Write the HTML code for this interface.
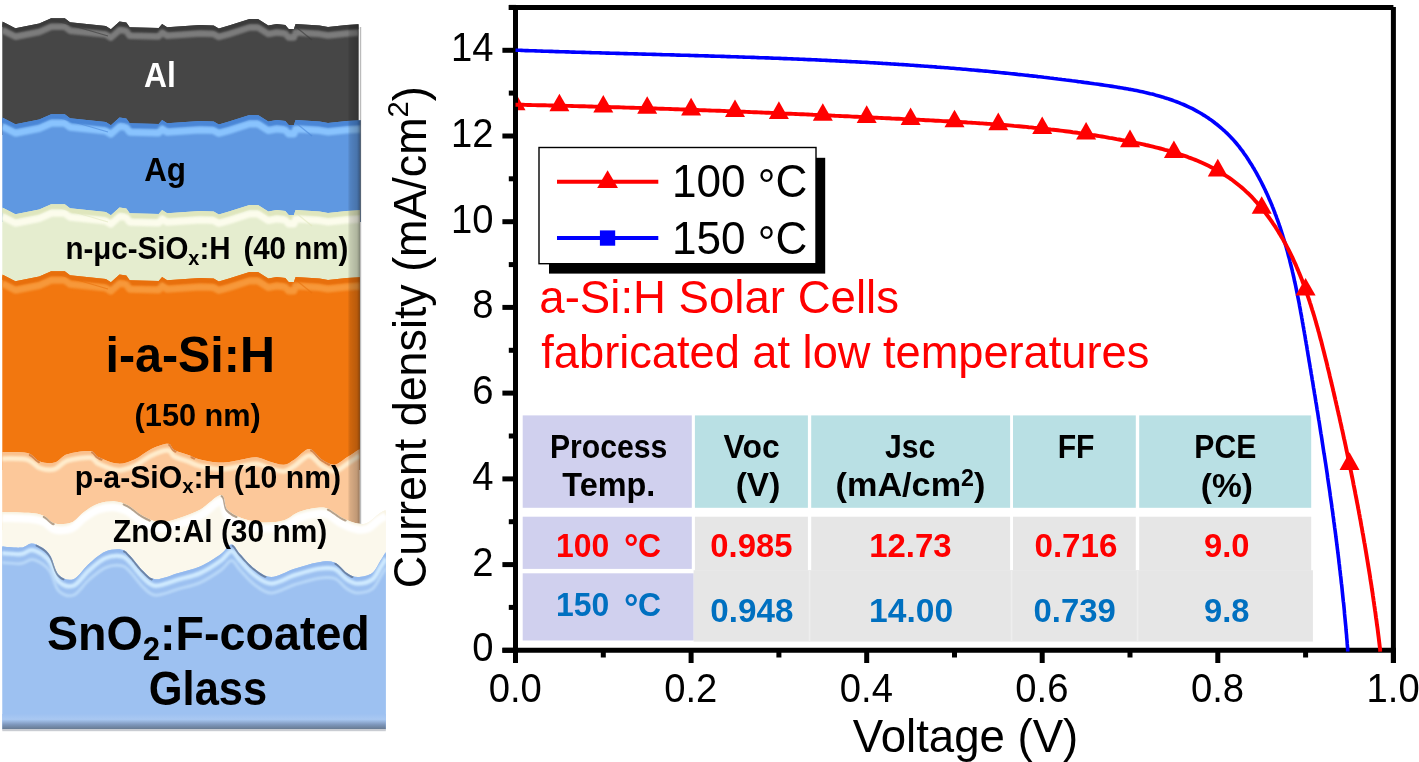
<!DOCTYPE html>
<html lang="en"><head><meta charset="utf-8"><title>a-Si:H Solar Cells fabricated at low temperatures</title>
<style>
html,body{margin:0;padding:0;background:#fff;}
body{width:1419px;height:762px;overflow:hidden;}
svg{display:block;}
</style></head><body>
<svg width="1419" height="762" viewBox="0 0 1419 762">
<defs>
<filter id="b05" x="-5%" y="-50%" width="110%" height="200%"><feGaussianBlur stdDeviation="0.5"/></filter>
<filter id="b1" x="-5%" y="-50%" width="110%" height="200%"><feGaussianBlur stdDeviation="0.9"/></filter>
<linearGradient id="side" x1="0" x2="1" y1="0" y2="0"><stop offset="0" stop-color="#000" stop-opacity="0"/><stop offset="0.18" stop-color="#000" stop-opacity="0.14"/><stop offset="0.7" stop-color="#000" stop-opacity="0.24"/><stop offset="1" stop-color="#000" stop-opacity="0.5"/></linearGradient>
<linearGradient id="bot" x1="0" x2="0" y1="0" y2="1"><stop offset="0" stop-color="#9ec1f1"/><stop offset="0.35" stop-color="#a9c8f2"/><stop offset="0.7" stop-color="#7d96ba"/><stop offset="1" stop-color="#66788f"/></linearGradient>
<clipPath id="c_al"><path d="M2.3 135.0 L2.3 21.5 L15.4 28.2 L39.2 23.5 L51.2 18.2 L64.8 18.2 L70.0 22.2 L105.8 26.0 L110.9 29.2 L119.5 21.5 L126.3 22.4 L129.7 27.3 L158.7 28.0 L162.1 24.0 L167.2 27.3 L200.0 24.9 L213.7 25.6 L218.8 28.4 L229.0 25.6 L249.5 19.0 L258.0 19.0 L268.3 25.6 L276.8 24.0 L285.3 24.9 L288.7 29.0 L293.9 29.0 L295.6 24.0 L319.5 25.6 L328.0 27.0 L346.8 24.9 L358.6 24.2 L358.6 135.0 L2.3 135.0 Z"/></clipPath>
<clipPath id="c_ag"><path d="M2.3 222.0 L2.3 117.5 L15.4 124.2 L39.2 119.5 L51.2 114.2 L64.8 114.2 L70.0 118.2 L105.8 122.0 L110.9 125.2 L119.5 117.5 L126.3 118.4 L129.7 123.3 L158.7 124.0 L162.1 120.0 L167.2 123.3 L200.0 120.9 L213.7 121.6 L218.8 124.4 L229.0 121.6 L249.5 115.0 L258.0 115.0 L268.3 121.6 L276.8 120.0 L285.3 120.9 L288.7 125.0 L293.9 125.0 L295.6 120.0 L319.5 121.6 L328.0 123.0 L346.8 120.9 L361.0 120.2 L361.0 222.0 L2.3 222.0 Z"/></clipPath>
<clipPath id="c_n"><path d="M2.3 290.0 L2.3 207.5 L15.4 214.2 L39.2 209.5 L51.2 204.2 L64.8 204.2 L70.0 208.2 L105.8 212.0 L110.9 215.2 L119.5 207.5 L126.3 208.4 L129.7 213.3 L158.7 214.0 L162.1 210.0 L167.2 213.3 L200.0 210.9 L213.7 211.6 L218.8 214.4 L229.0 211.6 L249.5 205.0 L258.0 205.0 L268.3 211.6 L276.8 210.0 L285.3 210.9 L288.7 215.0 L293.9 215.0 L295.6 210.0 L319.5 211.6 L328.0 213.0 L346.8 210.9 L360.0 210.2 L360.0 290.0 L2.3 290.0 Z"/></clipPath>
<clipPath id="c_i"><path d="M2.3 470.0 L2.3 274.5 L15.4 281.2 L39.2 276.5 L51.2 271.2 L64.8 271.2 L70.0 275.2 L105.8 279.0 L110.9 282.2 L119.5 274.5 L126.3 275.4 L129.7 280.3 L158.7 281.0 L162.1 277.0 L167.2 280.3 L200.0 277.9 L213.7 278.6 L218.8 281.4 L229.0 278.6 L249.5 272.0 L258.0 272.0 L268.3 278.6 L276.8 277.0 L285.3 277.9 L288.7 282.0 L293.9 282.0 L295.6 277.0 L319.5 278.6 L328.0 280.0 L346.8 277.9 L360.0 277.2 L360.0 470.0 L2.3 470.0 Z"/></clipPath>
<clipPath id="c_p"><path d="M2.3 530.0 L2.1 452.1 C6.3 452.3 21.0 451.5 27.3 453.1 C33.6 454.7 35.4 459.9 39.9 461.5 C44.4 463.1 50.0 463.8 54.6 462.6 C59.2 461.4 61.2 456.1 67.2 454.2 C73.2 452.3 85.0 450.5 90.3 451.0 C95.5 451.5 94.2 455.2 98.7 457.3 C103.2 459.4 111.6 463.2 117.6 463.6 C123.6 464.0 128.9 461.8 134.5 459.4 C140.1 456.9 145.7 451.5 151.3 448.9 C156.9 446.3 164.2 443.5 168.0 443.7 C171.8 443.9 170.9 448.1 174.4 450.0 C177.9 451.9 184.7 453.6 189.0 455.2 C193.3 456.8 194.7 458.2 200.0 459.4 C205.3 460.6 214.0 462.6 221.0 462.6 C228.0 462.6 236.1 460.3 242.0 459.4 C247.9 458.5 252.1 456.9 256.7 457.3 C261.2 457.7 264.8 460.3 269.3 461.5 C273.9 462.7 279.8 465.1 284.0 464.7 C288.2 464.3 290.3 462.0 294.5 459.4 C298.7 456.8 304.6 448.9 309.2 448.9 C313.8 448.9 317.6 456.8 321.8 459.4 C326.0 462.0 330.3 465.0 334.5 464.7 C338.7 464.4 342.8 459.9 347.0 457.3 C351.2 454.7 357.6 450.3 359.7 448.9 L359.7 530.0 L2.3 530.0 Z"/></clipPath>
<clipPath id="c_z"><path d="M2.3 585.0 L2.1 511.9 C7.0 512.1 24.5 512.3 31.5 513.0 C38.5 513.7 40.2 514.4 44.1 516.1 C48.0 517.9 50.0 522.5 54.6 523.5 C59.2 524.5 66.5 524.3 71.4 522.4 C76.3 520.5 79.5 515.0 84.0 511.9 C88.5 508.8 93.5 505.2 98.7 503.5 C104.0 501.8 110.6 501.0 115.5 501.4 C120.4 501.8 123.6 503.2 128.2 505.6 C132.8 508.1 137.7 513.3 142.9 516.1 C148.2 518.9 153.8 522.0 159.7 522.4 C165.6 522.8 171.9 520.3 178.6 518.2 C185.3 516.1 192.9 513.6 200.0 509.8 C207.1 505.9 216.4 495.1 221.0 495.1 C225.6 495.1 223.8 505.9 227.3 509.8 C230.8 513.6 236.1 516.1 242.0 518.2 C247.9 520.3 256.0 522.0 263.0 522.4 C270.0 522.8 278.1 522.0 284.0 520.3 C289.9 518.5 293.1 514.0 298.7 511.9 C304.3 509.8 312.7 508.2 317.6 507.7 C322.5 507.2 324.0 507.1 328.2 508.8 C332.4 510.6 338.0 515.8 342.9 518.2 C347.8 520.7 353.4 522.8 357.6 523.5 C361.8 524.2 364.5 524.0 368.0 522.4 C371.5 520.8 375.6 516.1 378.6 514.0 C381.6 511.9 384.7 510.5 385.9 509.8 L385.9 585.0 L2.3 585.0 Z"/></clipPath>
<clipPath id="c_s"><path d="M2.3 729.3 L2.1 546.6 C5.2 546.8 16.1 548.1 21.0 547.6 C25.9 547.1 28.0 543.4 31.5 543.4 C35.0 543.4 38.9 545.5 42.0 547.6 C45.1 549.7 47.6 551.4 50.4 556.0 C53.2 560.6 54.9 571.1 58.8 575.0 C62.6 578.9 68.6 581.0 73.5 579.2 C78.4 577.5 83.0 569.1 88.2 564.5 C93.5 559.9 99.4 554.3 105.0 551.8 C110.6 549.3 117.6 549.0 121.8 549.7 C126.0 550.4 126.8 552.5 130.3 556.0 C133.8 559.5 138.7 566.9 142.9 570.8 C147.1 574.7 149.6 578.9 155.5 579.2 C161.4 579.6 171.2 575.0 178.6 572.9 C186.0 570.8 192.9 569.8 200.0 566.6 C207.1 563.5 215.8 557.7 221.0 554.0 C226.2 550.3 228.3 544.5 231.5 544.5 C234.7 544.5 236.2 550.0 240.0 554.0 C243.8 558.0 249.4 564.9 254.6 568.7 C259.8 572.5 264.8 577.0 271.4 577.0 C278.0 577.0 286.8 571.1 294.5 568.7 C302.2 566.3 310.9 563.5 317.6 562.4 C324.3 561.3 329.6 560.6 334.5 562.4 C339.4 564.1 343.1 570.5 347.0 572.9 C350.9 575.3 353.4 577.0 357.6 577.0 C361.8 577.0 368.5 575.7 372.3 572.9 C376.1 570.1 378.4 563.8 380.7 560.3 C383.0 556.8 385.0 553.2 385.9 551.8 L385.9 729.3 L2.3 729.3 Z"/></clipPath>
<clipPath id="c_sideclip"><path d="M2.3 135.0 L2.3 21.5 L15.4 28.2 L39.2 23.5 L51.2 18.2 L64.8 18.2 L70.0 22.2 L105.8 26.0 L110.9 29.2 L119.5 21.5 L126.3 22.4 L129.7 27.3 L158.7 28.0 L162.1 24.0 L167.2 27.3 L200.0 24.9 L213.7 25.6 L218.8 28.4 L229.0 25.6 L249.5 19.0 L258.0 19.0 L268.3 25.6 L276.8 24.0 L285.3 24.9 L288.7 29.0 L293.9 29.0 L295.6 24.0 L319.5 25.6 L328.0 27.0 L346.8 24.9 L358.6 24.2 L358.6 135.0 L2.3 135.0 Z"/><path d="M2.3 222.0 L2.3 117.5 L15.4 124.2 L39.2 119.5 L51.2 114.2 L64.8 114.2 L70.0 118.2 L105.8 122.0 L110.9 125.2 L119.5 117.5 L126.3 118.4 L129.7 123.3 L158.7 124.0 L162.1 120.0 L167.2 123.3 L200.0 120.9 L213.7 121.6 L218.8 124.4 L229.0 121.6 L249.5 115.0 L258.0 115.0 L268.3 121.6 L276.8 120.0 L285.3 120.9 L288.7 125.0 L293.9 125.0 L295.6 120.0 L319.5 121.6 L328.0 123.0 L346.8 120.9 L361.0 120.2 L361.0 222.0 L2.3 222.0 Z"/><path d="M2.3 290.0 L2.3 207.5 L15.4 214.2 L39.2 209.5 L51.2 204.2 L64.8 204.2 L70.0 208.2 L105.8 212.0 L110.9 215.2 L119.5 207.5 L126.3 208.4 L129.7 213.3 L158.7 214.0 L162.1 210.0 L167.2 213.3 L200.0 210.9 L213.7 211.6 L218.8 214.4 L229.0 211.6 L249.5 205.0 L258.0 205.0 L268.3 211.6 L276.8 210.0 L285.3 210.9 L288.7 215.0 L293.9 215.0 L295.6 210.0 L319.5 211.6 L328.0 213.0 L346.8 210.9 L360.0 210.2 L360.0 290.0 L2.3 290.0 Z"/><path d="M2.3 470.0 L2.3 274.5 L15.4 281.2 L39.2 276.5 L51.2 271.2 L64.8 271.2 L70.0 275.2 L105.8 279.0 L110.9 282.2 L119.5 274.5 L126.3 275.4 L129.7 280.3 L158.7 281.0 L162.1 277.0 L167.2 280.3 L200.0 277.9 L213.7 278.6 L218.8 281.4 L229.0 278.6 L249.5 272.0 L258.0 272.0 L268.3 278.6 L276.8 277.0 L285.3 277.9 L288.7 282.0 L293.9 282.0 L295.6 277.0 L319.5 278.6 L328.0 280.0 L346.8 277.9 L360.0 277.2 L360.0 470.0 L2.3 470.0 Z"/><path d="M2.3 530.0 L2.1 452.1 C6.3 452.3 21.0 451.5 27.3 453.1 C33.6 454.7 35.4 459.9 39.9 461.5 C44.4 463.1 50.0 463.8 54.6 462.6 C59.2 461.4 61.2 456.1 67.2 454.2 C73.2 452.3 85.0 450.5 90.3 451.0 C95.5 451.5 94.2 455.2 98.7 457.3 C103.2 459.4 111.6 463.2 117.6 463.6 C123.6 464.0 128.9 461.8 134.5 459.4 C140.1 456.9 145.7 451.5 151.3 448.9 C156.9 446.3 164.2 443.5 168.0 443.7 C171.8 443.9 170.9 448.1 174.4 450.0 C177.9 451.9 184.7 453.6 189.0 455.2 C193.3 456.8 194.7 458.2 200.0 459.4 C205.3 460.6 214.0 462.6 221.0 462.6 C228.0 462.6 236.1 460.3 242.0 459.4 C247.9 458.5 252.1 456.9 256.7 457.3 C261.2 457.7 264.8 460.3 269.3 461.5 C273.9 462.7 279.8 465.1 284.0 464.7 C288.2 464.3 290.3 462.0 294.5 459.4 C298.7 456.8 304.6 448.9 309.2 448.9 C313.8 448.9 317.6 456.8 321.8 459.4 C326.0 462.0 330.3 465.0 334.5 464.7 C338.7 464.4 342.8 459.9 347.0 457.3 C351.2 454.7 357.6 450.3 359.7 448.9 L359.7 530.0 L2.3 530.0 Z"/></clipPath>
<clipPath id="plotclip"><rect x="518" y="5" width="878" height="648"/></clipPath><clipPath id="lineclip"><rect x="515" y="5" width="881" height="646.8"/></clipPath>
<clipPath id="sideclip0"><rect x="0" y="0" width="361" height="530"/></clipPath>
</defs>
<rect width="1419" height="762" fill="#fff"/>
<!-- layer stack -->
<g id="stack">
<path d="M2.3 135.0 L2.3 21.5 L15.4 28.2 L39.2 23.5 L51.2 18.2 L64.8 18.2 L70.0 22.2 L105.8 26.0 L110.9 29.2 L119.5 21.5 L126.3 22.4 L129.7 27.3 L158.7 28.0 L162.1 24.0 L167.2 27.3 L200.0 24.9 L213.7 25.6 L218.8 28.4 L229.0 25.6 L249.5 19.0 L258.0 19.0 L268.3 25.6 L276.8 24.0 L285.3 24.9 L288.7 29.0 L293.9 29.0 L295.6 24.0 L319.5 25.6 L328.0 27.0 L346.8 24.9 L358.6 24.2 L358.6 135.0 L2.3 135.0 Z" fill="#464646"/>
<g clip-path="url(#c_al)"><path d="M2.3 21.5 L15.4 28.2 L39.2 23.5 L51.2 18.2 L64.8 18.2 L70.0 22.2 L105.8 26.0 L110.9 29.2 L119.5 21.5 L126.3 22.4 L129.7 27.3 L158.7 28.0 L162.1 24.0 L167.2 27.3 L200.0 24.9 L213.7 25.6 L218.8 28.4 L229.0 25.6 L249.5 19.0 L258.0 19.0 L268.3 25.6 L276.8 24.0 L285.3 24.9 L288.7 29.0 L293.9 29.0 L295.6 24.0 L319.5 25.6 L328.0 27.0 L346.8 24.9 L358.6 24.2" fill="none" stroke="#3b3b3b" stroke-width="6" transform="translate(0,2)"/><path d="M2.3 21.5 L15.4 28.2 L39.2 23.5 L51.2 18.2 L64.8 18.2 L70.0 22.2 L105.8 26.0 L110.9 29.2 L119.5 21.5 L126.3 22.4 L129.7 27.3 L158.7 28.0 L162.1 24.0 L167.2 27.3 L200.0 24.9 L213.7 25.6 L218.8 28.4 L229.0 25.6 L249.5 19.0 L258.0 19.0 L268.3 25.6 L276.8 24.0 L285.3 24.9 L288.7 29.0 L293.9 29.0 L295.6 24.0 L319.5 25.6 L328.0 27.0 L346.8 24.9 L358.6 24.2" fill="none" stroke="#8a8a8a" stroke-width="6.5" stroke-linejoin="round" opacity="0.8" transform="translate(0,8.5)" filter="url(#b1)"/><path d="M50 19.0 L108 36.0 M296 27.0 L312 40.0" stroke="#3b3b3b" stroke-width="1.3" opacity="0.6" fill="none"/></g>
<path d="M2.3 222.0 L2.3 117.5 L15.4 124.2 L39.2 119.5 L51.2 114.2 L64.8 114.2 L70.0 118.2 L105.8 122.0 L110.9 125.2 L119.5 117.5 L126.3 118.4 L129.7 123.3 L158.7 124.0 L162.1 120.0 L167.2 123.3 L200.0 120.9 L213.7 121.6 L218.8 124.4 L229.0 121.6 L249.5 115.0 L258.0 115.0 L268.3 121.6 L276.8 120.0 L285.3 120.9 L288.7 125.0 L293.9 125.0 L295.6 120.0 L319.5 121.6 L328.0 123.0 L346.8 120.9 L361.0 120.2 L361.0 222.0 L2.3 222.0 Z" fill="#5f98e1"/>
<g clip-path="url(#c_ag)"><path d="M2.3 117.5 L15.4 124.2 L39.2 119.5 L51.2 114.2 L64.8 114.2 L70.0 118.2 L105.8 122.0 L110.9 125.2 L119.5 117.5 L126.3 118.4 L129.7 123.3 L158.7 124.0 L162.1 120.0 L167.2 123.3 L200.0 120.9 L213.7 121.6 L218.8 124.4 L229.0 121.6 L249.5 115.0 L258.0 115.0 L268.3 121.6 L276.8 120.0 L285.3 120.9 L288.7 125.0 L293.9 125.0 L295.6 120.0 L319.5 121.6 L328.0 123.0 L346.8 120.9 L361.0 120.2" fill="none" stroke="#4a86d6" stroke-width="6" transform="translate(0,2)"/><path d="M2.3 117.5 L15.4 124.2 L39.2 119.5 L51.2 114.2 L64.8 114.2 L70.0 118.2 L105.8 122.0 L110.9 125.2 L119.5 117.5 L126.3 118.4 L129.7 123.3 L158.7 124.0 L162.1 120.0 L167.2 123.3 L200.0 120.9 L213.7 121.6 L218.8 124.4 L229.0 121.6 L249.5 115.0 L258.0 115.0 L268.3 121.6 L276.8 120.0 L285.3 120.9 L288.7 125.0 L293.9 125.0 L295.6 120.0 L319.5 121.6 L328.0 123.0 L346.8 120.9 L361.0 120.2" fill="none" stroke="#8cc6ff" stroke-width="7" stroke-linejoin="round" opacity="0.95" transform="translate(0,9)" filter="url(#b1)"/><path d="M50 115.0 L108 132.0 M296 123.0 L312 136.0" stroke="#4a86d6" stroke-width="1.3" opacity="0.6" fill="none"/></g>
<path d="M2.3 290.0 L2.3 207.5 L15.4 214.2 L39.2 209.5 L51.2 204.2 L64.8 204.2 L70.0 208.2 L105.8 212.0 L110.9 215.2 L119.5 207.5 L126.3 208.4 L129.7 213.3 L158.7 214.0 L162.1 210.0 L167.2 213.3 L200.0 210.9 L213.7 211.6 L218.8 214.4 L229.0 211.6 L249.5 205.0 L258.0 205.0 L268.3 211.6 L276.8 210.0 L285.3 210.9 L288.7 215.0 L293.9 215.0 L295.6 210.0 L319.5 211.6 L328.0 213.0 L346.8 210.9 L360.0 210.2 L360.0 290.0 L2.3 290.0 Z" fill="#e5edcf"/>
<g clip-path="url(#c_n)"><path d="M2.3 207.5 L15.4 214.2 L39.2 209.5 L51.2 204.2 L64.8 204.2 L70.0 208.2 L105.8 212.0 L110.9 215.2 L119.5 207.5 L126.3 208.4 L129.7 213.3 L158.7 214.0 L162.1 210.0 L167.2 213.3 L200.0 210.9 L213.7 211.6 L218.8 214.4 L229.0 211.6 L249.5 205.0 L258.0 205.0 L268.3 211.6 L276.8 210.0 L285.3 210.9 L288.7 215.0 L293.9 215.0 L295.6 210.0 L319.5 211.6 L328.0 213.0 L346.8 210.9 L360.0 210.2" fill="none" stroke="#dfe6bd" stroke-width="6" transform="translate(0,2)"/><path d="M2.3 207.5 L15.4 214.2 L39.2 209.5 L51.2 204.2 L64.8 204.2 L70.0 208.2 L105.8 212.0 L110.9 215.2 L119.5 207.5 L126.3 208.4 L129.7 213.3 L158.7 214.0 L162.1 210.0 L167.2 213.3 L200.0 210.9 L213.7 211.6 L218.8 214.4 L229.0 211.6 L249.5 205.0 L258.0 205.0 L268.3 211.6 L276.8 210.0 L285.3 210.9 L288.7 215.0 L293.9 215.0 L295.6 210.0 L319.5 211.6 L328.0 213.0 L346.8 210.9 L360.0 210.2" fill="none" stroke="#fdfdee" stroke-width="7" stroke-linejoin="round" opacity="0.95" transform="translate(0,9)" filter="url(#b1)"/><path d="M50 205.0 L108 222.0 M296 213.0 L312 226.0" stroke="#dfe6bd" stroke-width="1.3" opacity="0.6" fill="none"/></g>
<path d="M2.3 470.0 L2.3 274.5 L15.4 281.2 L39.2 276.5 L51.2 271.2 L64.8 271.2 L70.0 275.2 L105.8 279.0 L110.9 282.2 L119.5 274.5 L126.3 275.4 L129.7 280.3 L158.7 281.0 L162.1 277.0 L167.2 280.3 L200.0 277.9 L213.7 278.6 L218.8 281.4 L229.0 278.6 L249.5 272.0 L258.0 272.0 L268.3 278.6 L276.8 277.0 L285.3 277.9 L288.7 282.0 L293.9 282.0 L295.6 277.0 L319.5 278.6 L328.0 280.0 L346.8 277.9 L360.0 277.2 L360.0 470.0 L2.3 470.0 Z" fill="#f2770f"/>
<g clip-path="url(#c_i)"><path d="M2.3 274.5 L15.4 281.2 L39.2 276.5 L51.2 271.2 L64.8 271.2 L70.0 275.2 L105.8 279.0 L110.9 282.2 L119.5 274.5 L126.3 275.4 L129.7 280.3 L158.7 281.0 L162.1 277.0 L167.2 280.3 L200.0 277.9 L213.7 278.6 L218.8 281.4 L229.0 278.6 L249.5 272.0 L258.0 272.0 L268.3 278.6 L276.8 277.0 L285.3 277.9 L288.7 282.0 L293.9 282.0 L295.6 277.0 L319.5 278.6 L328.0 280.0 L346.8 277.9 L360.0 277.2" fill="none" stroke="#e86f0c" stroke-width="6" transform="translate(0,2)"/><path d="M2.3 274.5 L15.4 281.2 L39.2 276.5 L51.2 271.2 L64.8 271.2 L70.0 275.2 L105.8 279.0 L110.9 282.2 L119.5 274.5 L126.3 275.4 L129.7 280.3 L158.7 281.0 L162.1 277.0 L167.2 280.3 L200.0 277.9 L213.7 278.6 L218.8 281.4 L229.0 278.6 L249.5 272.0 L258.0 272.0 L268.3 278.6 L276.8 277.0 L285.3 277.9 L288.7 282.0 L293.9 282.0 L295.6 277.0 L319.5 278.6 L328.0 280.0 L346.8 277.9 L360.0 277.2" fill="none" stroke="#f8a045" stroke-width="7" stroke-linejoin="round" opacity="0.8" transform="translate(0,9)" filter="url(#b1)"/><path d="M50 272.0 L108 289.0 M296 280.0 L312 293.0" stroke="#e86f0c" stroke-width="1.3" opacity="0.6" fill="none"/></g>
<path d="M2.3 530.0 L2.1 452.1 C6.3 452.3 21.0 451.5 27.3 453.1 C33.6 454.7 35.4 459.9 39.9 461.5 C44.4 463.1 50.0 463.8 54.6 462.6 C59.2 461.4 61.2 456.1 67.2 454.2 C73.2 452.3 85.0 450.5 90.3 451.0 C95.5 451.5 94.2 455.2 98.7 457.3 C103.2 459.4 111.6 463.2 117.6 463.6 C123.6 464.0 128.9 461.8 134.5 459.4 C140.1 456.9 145.7 451.5 151.3 448.9 C156.9 446.3 164.2 443.5 168.0 443.7 C171.8 443.9 170.9 448.1 174.4 450.0 C177.9 451.9 184.7 453.6 189.0 455.2 C193.3 456.8 194.7 458.2 200.0 459.4 C205.3 460.6 214.0 462.6 221.0 462.6 C228.0 462.6 236.1 460.3 242.0 459.4 C247.9 458.5 252.1 456.9 256.7 457.3 C261.2 457.7 264.8 460.3 269.3 461.5 C273.9 462.7 279.8 465.1 284.0 464.7 C288.2 464.3 290.3 462.0 294.5 459.4 C298.7 456.8 304.6 448.9 309.2 448.9 C313.8 448.9 317.6 456.8 321.8 459.4 C326.0 462.0 330.3 465.0 334.5 464.7 C338.7 464.4 342.8 459.9 347.0 457.3 C351.2 454.7 357.6 450.3 359.7 448.9 L359.7 530.0 L2.3 530.0 Z" fill="#fcc89a"/>
<g clip-path="url(#c_p)"><path d="M2.1 452.1 C6.3 452.3 21.0 451.5 27.3 453.1 C33.6 454.7 35.4 459.9 39.9 461.5 C44.4 463.1 50.0 463.8 54.6 462.6 C59.2 461.4 61.2 456.1 67.2 454.2 C73.2 452.3 85.0 450.5 90.3 451.0 C95.5 451.5 94.2 455.2 98.7 457.3 C103.2 459.4 111.6 463.2 117.6 463.6 C123.6 464.0 128.9 461.8 134.5 459.4 C140.1 456.9 145.7 451.5 151.3 448.9 C156.9 446.3 164.2 443.5 168.0 443.7 C171.8 443.9 170.9 448.1 174.4 450.0 C177.9 451.9 184.7 453.6 189.0 455.2 C193.3 456.8 194.7 458.2 200.0 459.4 C205.3 460.6 214.0 462.6 221.0 462.6 C228.0 462.6 236.1 460.3 242.0 459.4 C247.9 458.5 252.1 456.9 256.7 457.3 C261.2 457.7 264.8 460.3 269.3 461.5 C273.9 462.7 279.8 465.1 284.0 464.7 C288.2 464.3 290.3 462.0 294.5 459.4 C298.7 456.8 304.6 448.9 309.2 448.9 C313.8 448.9 317.6 456.8 321.8 459.4 C326.0 462.0 330.3 465.0 334.5 464.7 C338.7 464.4 342.8 459.9 347.0 457.3 C351.2 454.7 357.6 450.3 359.7 448.9" fill="none" stroke="#fac08c" stroke-width="6" transform="translate(0,2)"/><path d="M2.1 452.1 C6.3 452.3 21.0 451.5 27.3 453.1 C33.6 454.7 35.4 459.9 39.9 461.5 C44.4 463.1 50.0 463.8 54.6 462.6 C59.2 461.4 61.2 456.1 67.2 454.2 C73.2 452.3 85.0 450.5 90.3 451.0 C95.5 451.5 94.2 455.2 98.7 457.3 C103.2 459.4 111.6 463.2 117.6 463.6 C123.6 464.0 128.9 461.8 134.5 459.4 C140.1 456.9 145.7 451.5 151.3 448.9 C156.9 446.3 164.2 443.5 168.0 443.7 C171.8 443.9 170.9 448.1 174.4 450.0 C177.9 451.9 184.7 453.6 189.0 455.2 C193.3 456.8 194.7 458.2 200.0 459.4 C205.3 460.6 214.0 462.6 221.0 462.6 C228.0 462.6 236.1 460.3 242.0 459.4 C247.9 458.5 252.1 456.9 256.7 457.3 C261.2 457.7 264.8 460.3 269.3 461.5 C273.9 462.7 279.8 465.1 284.0 464.7 C288.2 464.3 290.3 462.0 294.5 459.4 C298.7 456.8 304.6 448.9 309.2 448.9 C313.8 448.9 317.6 456.8 321.8 459.4 C326.0 462.0 330.3 465.0 334.5 464.7 C338.7 464.4 342.8 459.9 347.0 457.3 C351.2 454.7 357.6 450.3 359.7 448.9" fill="none" stroke="#fff0d2" stroke-width="5" stroke-linejoin="round" opacity="0.9" transform="translate(0,6.5)" filter="url(#b1)"/><path d="M30.1 454.2 L31.3 454.9 L32.4 455.6 L33.3 456.4 L34.3 457.3 L35.1 458.1 L36.0 459.0 L36.9 459.7 L37.8 460.4 L38.8 461.0 M92.4 451.5 L93.2 451.9 L93.8 452.4 L94.3 453.0 L94.8 453.6 L95.2 454.2 L95.7 454.8 L96.2 455.5 L96.9 456.1 L97.7 456.7 L98.7 457.3 L99.9 457.9 L101.3 458.5 M169.6 444.1 L170.1 444.5 L170.6 445.0 L171.0 445.6 L171.3 446.2 L171.7 446.9 L172.0 447.6 L172.5 448.2 L173.0 448.9 L173.6 449.5 L174.4 450.0 L175.3 450.5 M191.8 456.3 L192.6 456.7 L193.3 457.1 L194.1 457.4 M311.4 449.5 L312.5 450.2 L313.6 451.0 L314.6 452.0 L315.6 453.2 L316.6 454.3 L317.7 455.5 L318.7 456.6 L319.7 457.7 L320.8 458.6 L321.8 459.4 L322.9 460.1 L323.9 460.7 L325.0 461.4 L326.0 462.0 L327.1 462.6 L328.2 463.2 L329.2 463.7" fill="none" stroke="#b4571a" stroke-width="2.6" stroke-linecap="round" opacity="0.55" transform="translate(0,0.8)" filter="url(#b05)"/></g>
<rect x="347.5" y="18" width="13.6" height="520" fill="url(#side)" clip-path="url(#c_sideclip)"/><rect x="359.8" y="27" width="1.4" height="497" fill="#777" opacity="0.5"/>
<path d="M2.3 585.0 L2.1 511.9 C7.0 512.1 24.5 512.3 31.5 513.0 C38.5 513.7 40.2 514.4 44.1 516.1 C48.0 517.9 50.0 522.5 54.6 523.5 C59.2 524.5 66.5 524.3 71.4 522.4 C76.3 520.5 79.5 515.0 84.0 511.9 C88.5 508.8 93.5 505.2 98.7 503.5 C104.0 501.8 110.6 501.0 115.5 501.4 C120.4 501.8 123.6 503.2 128.2 505.6 C132.8 508.1 137.7 513.3 142.9 516.1 C148.2 518.9 153.8 522.0 159.7 522.4 C165.6 522.8 171.9 520.3 178.6 518.2 C185.3 516.1 192.9 513.6 200.0 509.8 C207.1 505.9 216.4 495.1 221.0 495.1 C225.6 495.1 223.8 505.9 227.3 509.8 C230.8 513.6 236.1 516.1 242.0 518.2 C247.9 520.3 256.0 522.0 263.0 522.4 C270.0 522.8 278.1 522.0 284.0 520.3 C289.9 518.5 293.1 514.0 298.7 511.9 C304.3 509.8 312.7 508.2 317.6 507.7 C322.5 507.2 324.0 507.1 328.2 508.8 C332.4 510.6 338.0 515.8 342.9 518.2 C347.8 520.7 353.4 522.8 357.6 523.5 C361.8 524.2 364.5 524.0 368.0 522.4 C371.5 520.8 375.6 516.1 378.6 514.0 C381.6 511.9 384.7 510.5 385.9 509.8 L385.9 585.0 L2.3 585.0 Z" fill="#fbf8ec"/>
<g clip-path="url(#c_z)"><path d="M2.1 511.9 C7.0 512.1 24.5 512.3 31.5 513.0 C38.5 513.7 40.2 514.4 44.1 516.1 C48.0 517.9 50.0 522.5 54.6 523.5 C59.2 524.5 66.5 524.3 71.4 522.4 C76.3 520.5 79.5 515.0 84.0 511.9 C88.5 508.8 93.5 505.2 98.7 503.5 C104.0 501.8 110.6 501.0 115.5 501.4 C120.4 501.8 123.6 503.2 128.2 505.6 C132.8 508.1 137.7 513.3 142.9 516.1 C148.2 518.9 153.8 522.0 159.7 522.4 C165.6 522.8 171.9 520.3 178.6 518.2 C185.3 516.1 192.9 513.6 200.0 509.8 C207.1 505.9 216.4 495.1 221.0 495.1 C225.6 495.1 223.8 505.9 227.3 509.8 C230.8 513.6 236.1 516.1 242.0 518.2 C247.9 520.3 256.0 522.0 263.0 522.4 C270.0 522.8 278.1 522.0 284.0 520.3 C289.9 518.5 293.1 514.0 298.7 511.9 C304.3 509.8 312.7 508.2 317.6 507.7 C322.5 507.2 324.0 507.1 328.2 508.8 C332.4 510.6 338.0 515.8 342.9 518.2 C347.8 520.7 353.4 522.8 357.6 523.5 C361.8 524.2 364.5 524.0 368.0 522.4 C371.5 520.8 375.6 516.1 378.6 514.0 C381.6 511.9 384.7 510.5 385.9 509.8" fill="none" stroke="#f8f3e2" stroke-width="6" transform="translate(0,2)"/><path d="M2.1 511.9 C7.0 512.1 24.5 512.3 31.5 513.0 C38.5 513.7 40.2 514.4 44.1 516.1 C48.0 517.9 50.0 522.5 54.6 523.5 C59.2 524.5 66.5 524.3 71.4 522.4 C76.3 520.5 79.5 515.0 84.0 511.9 C88.5 508.8 93.5 505.2 98.7 503.5 C104.0 501.8 110.6 501.0 115.5 501.4 C120.4 501.8 123.6 503.2 128.2 505.6 C132.8 508.1 137.7 513.3 142.9 516.1 C148.2 518.9 153.8 522.0 159.7 522.4 C165.6 522.8 171.9 520.3 178.6 518.2 C185.3 516.1 192.9 513.6 200.0 509.8 C207.1 505.9 216.4 495.1 221.0 495.1 C225.6 495.1 223.8 505.9 227.3 509.8 C230.8 513.6 236.1 516.1 242.0 518.2 C247.9 520.3 256.0 522.0 263.0 522.4 C270.0 522.8 278.1 522.0 284.0 520.3 C289.9 518.5 293.1 514.0 298.7 511.9 C304.3 509.8 312.7 508.2 317.6 507.7 C322.5 507.2 324.0 507.1 328.2 508.8 C332.4 510.6 338.0 515.8 342.9 518.2 C347.8 520.7 353.4 522.8 357.6 523.5 C361.8 524.2 364.5 524.0 368.0 522.4 C371.5 520.8 375.6 516.1 378.6 514.0 C381.6 511.9 384.7 510.5 385.9 509.8" fill="none" stroke="#ffffff" stroke-width="8" stroke-linejoin="round" opacity="1.0" transform="translate(0,6)" filter="url(#b1)"/><path d="M44.1 516.1 L45.0 516.6 L45.9 517.2 L46.7 517.8 L47.5 518.6 L48.3 519.3 L49.1 520.1 L49.9 520.8 L50.7 521.5 L51.6 522.1 L52.5 522.7 L53.5 523.2 M124.0 503.5 L125.0 504.0 L126.0 504.5 L127.1 505.0 L128.2 505.6 L129.3 506.3 L130.5 507.0 L131.7 507.9 L132.9 508.8 L134.1 509.7 L135.3 510.7 L136.5 511.7 L137.8 512.7 L139.0 513.6 L140.3 514.5 L141.6 515.4 L142.9 516.1 L144.2 516.8 L145.6 517.5 L146.9 518.2 L148.3 518.9 L149.6 519.6 M222.0 495.3 L222.8 495.9 L223.4 496.9 L223.9 498.1 L224.2 499.5 L224.5 501.0 L224.8 502.6 L225.1 504.3 L225.5 505.9 L225.9 507.4 L226.5 508.7 L227.3 509.8 L228.2 510.7 L229.2 511.6 L230.2 512.4 L231.3 513.2 L232.5 514.0 L233.7 514.7 L235.0 515.3 L236.3 515.9 M328.2 508.8 L329.3 509.3 L330.4 509.9 L331.6 510.7 L332.8 511.5 L334.0 512.3 L335.3 513.2 L336.6 514.2 L337.8 515.1 L339.1 515.9 L340.4 516.8 L341.7 517.5 L342.9 518.2 L344.1 518.8 L345.4 519.4" fill="none" stroke="#7a5a3a" stroke-width="2.6" stroke-linecap="round" opacity="0.55" transform="translate(0,0.8)" filter="url(#b05)"/></g>
<path d="M2.3 729.3 L2.1 546.6 C5.2 546.8 16.1 548.1 21.0 547.6 C25.9 547.1 28.0 543.4 31.5 543.4 C35.0 543.4 38.9 545.5 42.0 547.6 C45.1 549.7 47.6 551.4 50.4 556.0 C53.2 560.6 54.9 571.1 58.8 575.0 C62.6 578.9 68.6 581.0 73.5 579.2 C78.4 577.5 83.0 569.1 88.2 564.5 C93.5 559.9 99.4 554.3 105.0 551.8 C110.6 549.3 117.6 549.0 121.8 549.7 C126.0 550.4 126.8 552.5 130.3 556.0 C133.8 559.5 138.7 566.9 142.9 570.8 C147.1 574.7 149.6 578.9 155.5 579.2 C161.4 579.6 171.2 575.0 178.6 572.9 C186.0 570.8 192.9 569.8 200.0 566.6 C207.1 563.5 215.8 557.7 221.0 554.0 C226.2 550.3 228.3 544.5 231.5 544.5 C234.7 544.5 236.2 550.0 240.0 554.0 C243.8 558.0 249.4 564.9 254.6 568.7 C259.8 572.5 264.8 577.0 271.4 577.0 C278.0 577.0 286.8 571.1 294.5 568.7 C302.2 566.3 310.9 563.5 317.6 562.4 C324.3 561.3 329.6 560.6 334.5 562.4 C339.4 564.1 343.1 570.5 347.0 572.9 C350.9 575.3 353.4 577.0 357.6 577.0 C361.8 577.0 368.5 575.7 372.3 572.9 C376.1 570.1 378.4 563.8 380.7 560.3 C383.0 556.8 385.0 553.2 385.9 551.8 L385.9 729.3 L2.3 729.3 Z" fill="#9dc1f1"/>
<g clip-path="url(#c_s)"><path d="M2.1 546.6 C5.2 546.8 16.1 548.1 21.0 547.6 C25.9 547.1 28.0 543.4 31.5 543.4 C35.0 543.4 38.9 545.5 42.0 547.6 C45.1 549.7 47.6 551.4 50.4 556.0 C53.2 560.6 54.9 571.1 58.8 575.0 C62.6 578.9 68.6 581.0 73.5 579.2 C78.4 577.5 83.0 569.1 88.2 564.5 C93.5 559.9 99.4 554.3 105.0 551.8 C110.6 549.3 117.6 549.0 121.8 549.7 C126.0 550.4 126.8 552.5 130.3 556.0 C133.8 559.5 138.7 566.9 142.9 570.8 C147.1 574.7 149.6 578.9 155.5 579.2 C161.4 579.6 171.2 575.0 178.6 572.9 C186.0 570.8 192.9 569.8 200.0 566.6 C207.1 563.5 215.8 557.7 221.0 554.0 C226.2 550.3 228.3 544.5 231.5 544.5 C234.7 544.5 236.2 550.0 240.0 554.0 C243.8 558.0 249.4 564.9 254.6 568.7 C259.8 572.5 264.8 577.0 271.4 577.0 C278.0 577.0 286.8 571.1 294.5 568.7 C302.2 566.3 310.9 563.5 317.6 562.4 C324.3 561.3 329.6 560.6 334.5 562.4 C339.4 564.1 343.1 570.5 347.0 572.9 C350.9 575.3 353.4 577.0 357.6 577.0 C361.8 577.0 368.5 575.7 372.3 572.9 C376.1 570.1 378.4 563.8 380.7 560.3 C383.0 556.8 385.0 553.2 385.9 551.8" fill="none" stroke="#93b9ee" stroke-width="6" transform="translate(0,2)"/><path d="M2.1 546.6 C5.2 546.8 16.1 548.1 21.0 547.6 C25.9 547.1 28.0 543.4 31.5 543.4 C35.0 543.4 38.9 545.5 42.0 547.6 C45.1 549.7 47.6 551.4 50.4 556.0 C53.2 560.6 54.9 571.1 58.8 575.0 C62.6 578.9 68.6 581.0 73.5 579.2 C78.4 577.5 83.0 569.1 88.2 564.5 C93.5 559.9 99.4 554.3 105.0 551.8 C110.6 549.3 117.6 549.0 121.8 549.7 C126.0 550.4 126.8 552.5 130.3 556.0 C133.8 559.5 138.7 566.9 142.9 570.8 C147.1 574.7 149.6 578.9 155.5 579.2 C161.4 579.6 171.2 575.0 178.6 572.9 C186.0 570.8 192.9 569.8 200.0 566.6 C207.1 563.5 215.8 557.7 221.0 554.0 C226.2 550.3 228.3 544.5 231.5 544.5 C234.7 544.5 236.2 550.0 240.0 554.0 C243.8 558.0 249.4 564.9 254.6 568.7 C259.8 572.5 264.8 577.0 271.4 577.0 C278.0 577.0 286.8 571.1 294.5 568.7 C302.2 566.3 310.9 563.5 317.6 562.4 C324.3 561.3 329.6 560.6 334.5 562.4 C339.4 564.1 343.1 570.5 347.0 572.9 C350.9 575.3 353.4 577.0 357.6 577.0 C361.8 577.0 368.5 575.7 372.3 572.9 C376.1 570.1 378.4 563.8 380.7 560.3 C383.0 556.8 385.0 553.2 385.9 551.8" fill="none" stroke="#d2ecff" stroke-width="4.5" stroke-linejoin="round" opacity="0.95" transform="translate(0,6.5)" filter="url(#b1)"/><path d="M2.1 546.6 C5.2 546.8 16.1 548.1 21.0 547.6 C25.9 547.1 28.0 543.4 31.5 543.4 C35.0 543.4 38.9 545.5 42.0 547.6 C45.1 549.7 47.6 551.4 50.4 556.0 C53.2 560.6 54.9 571.1 58.8 575.0 C62.6 578.9 68.6 581.0 73.5 579.2 C78.4 577.5 83.0 569.1 88.2 564.5 C93.5 559.9 99.4 554.3 105.0 551.8 C110.6 549.3 117.6 549.0 121.8 549.7 C126.0 550.4 126.8 552.5 130.3 556.0 C133.8 559.5 138.7 566.9 142.9 570.8 C147.1 574.7 149.6 578.9 155.5 579.2 C161.4 579.6 171.2 575.0 178.6 572.9 C186.0 570.8 192.9 569.8 200.0 566.6 C207.1 563.5 215.8 557.7 221.0 554.0 C226.2 550.3 228.3 544.5 231.5 544.5 C234.7 544.5 236.2 550.0 240.0 554.0 C243.8 558.0 249.4 564.9 254.6 568.7 C259.8 572.5 264.8 577.0 271.4 577.0 C278.0 577.0 286.8 571.1 294.5 568.7 C302.2 566.3 310.9 563.5 317.6 562.4 C324.3 561.3 329.6 560.6 334.5 562.4 C339.4 564.1 343.1 570.5 347.0 572.9 C350.9 575.3 353.4 577.0 357.6 577.0 C361.8 577.0 368.5 575.7 372.3 572.9 C376.1 570.1 378.4 563.8 380.7 560.3 C383.0 556.8 385.0 553.2 385.9 551.8" fill="none" stroke="#d2ecff" stroke-width="3" stroke-linejoin="round" opacity="0.55" transform="translate(0,16)" filter="url(#b1)"/><path d="M36.9 544.7 L37.8 545.1 L38.7 545.6 L39.5 546.1 L40.4 546.6 L41.2 547.1 L42.0 547.6 L42.8 548.1 L43.5 548.6 L44.2 549.2 L45.0 549.7 L45.6 550.3 L46.3 550.9 L47.0 551.5 L47.7 552.3 L48.3 553.1 L49.0 553.9 L49.7 554.9 L50.4 556.0 L51.1 557.3 L51.7 558.7 L52.4 560.4 L53.0 562.1 L53.6 563.9 L54.2 565.8 L54.9 567.6 L55.5 569.4 L56.3 571.0 L57.0 572.6 L57.9 573.9 L58.8 575.0 L59.8 575.9 L60.9 576.8 L62.0 577.5 L63.2 578.2 M124.4 550.5 L125.1 550.9 L125.7 551.3 L126.3 551.8 L126.9 552.3 L127.5 553.0 L128.1 553.6 L128.7 554.4 L129.5 555.2 L130.3 556.0 L131.2 557.0 L132.2 558.0 L133.2 559.3 L134.2 560.5 L135.3 561.9 L136.3 563.3 L137.4 564.7 L138.5 566.0 L139.7 567.4 L140.8 568.6 L141.8 569.8 L142.9 570.8 L143.9 571.8 L144.9 572.7 L145.8 573.7 L146.7 574.6 L147.6 575.5 L148.5 576.3 L149.5 577.1 L150.5 577.7 L151.6 578.3 M233.0 544.9 L233.6 545.4 L234.3 546.1 L234.9 546.8 L235.5 547.7 L236.1 548.7 L236.8 549.7 L237.5 550.8 L238.3 551.9 L239.1 553.0 L240.0 554.0 L241.0 555.1 L242.1 556.2 L243.2 557.5 L244.3 558.8 L245.5 560.1 L246.8 561.4 L248.1 562.8 L249.3 564.1 L250.7 565.4 L252.0 566.6 L253.3 567.7 L254.6 568.7 L255.9 569.7 L257.2 570.6 L258.5 571.6 L259.8 572.6 L261.1 573.5 L262.5 574.3 L263.8 575.0 L265.3 575.7 M335.7 562.9 L336.9 563.6 L338.0 564.4 L339.1 565.4 L340.1 566.4 L341.1 567.4 L342.1 568.4 L343.1 569.5 L344.1 570.5 L345.1 571.4 L346.0 572.2 L347.0 572.9 L347.9 573.5 L348.8 574.0 L349.7 574.6 L350.5 575.0 L351.3 575.5 L352.2 575.9" fill="none" stroke="#4a5568" stroke-width="2.6" stroke-linecap="round" opacity="0.55" transform="translate(0,0.8)" filter="url(#b05)"/></g>
<rect x="2.3" y="714" width="383.5" height="15.3" fill="url(#bot)"/>
<rect x="2.3" y="729" width="383.5" height="2.2" fill="#c9ccd2"/>
<text font-family="Liberation Sans, sans-serif" font-weight="bold" font-size="34.2" fill="#fff" xml:space="preserve" transform="translate(144.07,86.70) scale(0.9290,1)">Al</text>
<text font-family="Liberation Sans, sans-serif" font-weight="bold" font-size="33.5" fill="#000" xml:space="preserve" transform="translate(144.16,181.00) scale(0.9381,1)">Ag</text>
<text font-family="Liberation Sans, sans-serif" font-weight="bold" font-size="31.2" fill="#000" xml:space="preserve" transform="translate(65.51,259.00) scale(0.9449,1)">n-μc-SiO<tspan font-size="21" dy="5.5">x</tspan><tspan dy="-5.5">:H<tspan dx="5"> (40 nm)</tspan></tspan></text>
<text font-family="Liberation Sans, sans-serif" font-weight="bold" font-size="49.4" fill="#000" xml:space="preserve" transform="translate(105.46,371.60) scale(0.9802,1)">i-a-Si:H</text>
<text font-family="Liberation Sans, sans-serif" font-weight="bold" font-size="31.2" fill="#000" xml:space="preserve" transform="translate(134.62,426.30) scale(0.9841,1)">(150 nm)</text>
<text font-family="Liberation Sans, sans-serif" font-weight="bold" font-size="31.2" fill="#000" xml:space="preserve" transform="translate(74.86,487.70) scale(0.9676,1)">p-a-SiO<tspan font-size="21" dy="5.5">x</tspan><tspan dy="-5.5">:H (10 nm)</tspan></text>
<text font-family="Liberation Sans, sans-serif" font-weight="bold" font-size="31.2" fill="#000" xml:space="preserve" transform="translate(113.10,541.90) scale(0.9577,1)">ZnO:Al (30 nm)</text>
<text font-family="Liberation Sans, sans-serif" font-weight="bold" font-size="48.8" fill="#000" xml:space="preserve" transform="translate(46.94,650.10) scale(0.9554,1)">SnO<tspan font-size="32.5" dy="9.7">2</tspan><tspan dy="-9.7">:F-coated</tspan></text>
<text font-family="Liberation Sans, sans-serif" font-weight="bold" font-size="48.8" fill="#000" xml:space="preserve" transform="translate(148.81,705.20) scale(0.8900,1)">Glass</text>
</g>
<!-- table -->
<g id="table">
<rect x="522.7" y="415.4" width="169.1" height="92.4" fill="#d0d0ee"/>
<rect x="522.7" y="516.7" width="169.1" height="52.2" fill="#d0d0ee"/>
<rect x="522.7" y="573.3" width="171" height="67.2" fill="#d0d0ee"/>
<rect x="694.9" y="415.4" width="113" height="92.4" fill="#b9e0e4"/>
<rect x="811.2" y="415.4" width="198.9" height="92.4" fill="#b9e0e4"/>
<rect x="1013" y="415.4" width="122.8" height="92.4" fill="#b9e0e4"/>
<rect x="1139.2" y="415.4" width="172" height="92.4" fill="#b9e0e4"/>
<rect x="694.9" y="516.7" width="113" height="54" fill="#e6e6e6"/>
<rect x="811.2" y="516.7" width="198.9" height="54" fill="#e6e6e6"/>
<rect x="1013" y="516.7" width="122.8" height="54" fill="#e6e6e6"/>
<rect x="1139.2" y="516.7" width="172" height="54" fill="#e6e6e6"/>
<rect x="693.6" y="570.2" width="619.3" height="71.4" fill="#e6e6e6"/>
<path d="M809.6 571V641.5M1011.6 571V641.5M1137.6 571V641.5" stroke="#eeeeee" stroke-width="1.6" fill="none"/>
<text font-family="Liberation Sans, sans-serif" font-weight="bold" font-size="33.9" fill="#000" xml:space="preserve" transform="translate(549.92,457.80) scale(0.8907,1)">Process</text>
<text font-family="Liberation Sans, sans-serif" font-weight="bold" font-size="33.9" fill="#000" xml:space="preserve" transform="translate(562.30,496.30) scale(0.9568,1)">Temp.</text>
<text font-family="Liberation Sans, sans-serif" font-weight="bold" font-size="33.9" fill="#000" xml:space="preserve" transform="translate(723.60,457.50) scale(0.9407,1)">Voc</text>
<text font-family="Liberation Sans, sans-serif" font-weight="bold" font-size="33.9" fill="#000" xml:space="preserve" transform="translate(735.71,496.00) scale(0.9860,1)">(V)</text>
<text font-family="Liberation Sans, sans-serif" font-weight="bold" font-size="33.9" fill="#000" xml:space="preserve" transform="translate(885.03,457.50) scale(0.8900,1)">Jsc</text>
<text font-family="Liberation Sans, sans-serif" font-weight="bold" font-size="33.9" fill="#000" xml:space="preserve" transform="translate(835.59,496.00) scale(1.0096,1)">(mA/cm<tspan font-size="23" dy="-9.6">2</tspan><tspan dy="9.6">)</tspan></text>
<text font-family="Liberation Sans, sans-serif" font-weight="bold" font-size="33.9" fill="#000" xml:space="preserve" transform="translate(1057.66,457.60) scale(0.8900,1)">FF</text>
<text font-family="Liberation Sans, sans-serif" font-weight="bold" font-size="33.9" fill="#000" xml:space="preserve" transform="translate(1194.35,457.60) scale(0.8900,1)">PCE</text>
<text font-family="Liberation Sans, sans-serif" font-weight="bold" font-size="33.9" fill="#000" xml:space="preserve" transform="translate(1200.81,496.50) scale(0.9880,1)">(%)</text>
<text font-family="Liberation Sans, sans-serif" font-weight="bold" font-size="33.9" fill="#ff0000" xml:space="preserve" transform="translate(555.92,556.50) scale(0.9413,1)">100<tspan font-size="38.4" dx="15.8" dy="4.8">°</tspan><tspan dx="-0.5" dy="-4.8">C</tspan></text>
<text font-family="Liberation Sans, sans-serif" font-weight="bold" font-size="33.9" fill="#ff0000" xml:space="preserve" transform="translate(710.33,557.10) scale(0.9675,1)">0.985</text>
<text font-family="Liberation Sans, sans-serif" font-weight="bold" font-size="33.9" fill="#ff0000" xml:space="preserve" transform="translate(869.16,557.10) scale(0.9720,1)">12.73</text>
<text font-family="Liberation Sans, sans-serif" font-weight="bold" font-size="33.9" fill="#ff0000" xml:space="preserve" transform="translate(1034.42,557.10) scale(0.9795,1)">0.716</text>
<text font-family="Liberation Sans, sans-serif" font-weight="bold" font-size="33.9" fill="#ff0000" xml:space="preserve" transform="translate(1204.04,557.10) scale(0.9644,1)">9.0</text>
<text font-family="Liberation Sans, sans-serif" font-weight="bold" font-size="33.9" fill="#0070c0" xml:space="preserve" transform="translate(555.92,615.70) scale(0.9413,1)">150<tspan font-size="38.4" dx="15.8" dy="4.8">°</tspan><tspan dx="-0.5" dy="-4.8">C</tspan></text>
<text font-family="Liberation Sans, sans-serif" font-weight="bold" font-size="33.9" fill="#0070c0" xml:space="preserve" transform="translate(710.32,621.60) scale(0.9795,1)">0.948</text>
<text font-family="Liberation Sans, sans-serif" font-weight="bold" font-size="33.9" fill="#0070c0" xml:space="preserve" transform="translate(869.12,621.60) scale(0.9902,1)">14.00</text>
<text font-family="Liberation Sans, sans-serif" font-weight="bold" font-size="33.9" fill="#0070c0" xml:space="preserve" transform="translate(1033.53,621.60) scale(0.9699,1)">0.739</text>
<text font-family="Liberation Sans, sans-serif" font-weight="bold" font-size="33.9" fill="#0070c0" xml:space="preserve" transform="translate(1204.04,621.60) scale(0.9644,1)">9.8</text>
</g>
<!-- axes -->
<g id="axes" stroke="#000" stroke-width="5" fill="none" stroke-linecap="butt">
<path d="M508.8 7.5H1393.4"/><path d="M1393.4 7V663"/><path d="M515.5 5V663"/><path d="M502.4 650.3H1396"/>
<path d="M502.4 650.3H516"/><path d="M508.8 607.4H516"/><path d="M502.4 564.6H516"/><path d="M508.8 521.7H516"/><path d="M502.4 478.9H516"/><path d="M508.8 436.0H516"/><path d="M502.4 393.1H516"/><path d="M508.8 350.3H516"/><path d="M502.4 307.4H516"/><path d="M508.8 264.6H516"/><path d="M502.4 221.7H516"/><path d="M508.8 178.8H516"/><path d="M502.4 136.0H516"/><path d="M508.8 93.1H516"/><path d="M502.4 50.3H516"/><path d="M508.8 7.4H516"/><path d="M515.5 650V663"/><path d="M603.3 650V657.5"/><path d="M691.1 650V663"/><path d="M778.9 650V657.5"/><path d="M866.7 650V663"/><path d="M954.5 650V657.5"/><path d="M1042.2 650V663"/><path d="M1130.0 650V657.5"/><path d="M1217.8 650V663"/><path d="M1305.6 650V657.5"/><path d="M1393.4 650V663"/>
</g>
<g font-family="Liberation Sans, sans-serif" font-size="39.8" fill="#000"><text transform="translate(493.6,661.3) scale(0.96,1)" text-anchor="end">0</text><text transform="translate(493.6,575.6) scale(0.96,1)" text-anchor="end">2</text><text transform="translate(493.6,489.9) scale(0.96,1)" text-anchor="end">4</text><text transform="translate(493.6,404.1) scale(0.96,1)" text-anchor="end">6</text><text transform="translate(493.6,318.4) scale(0.96,1)" text-anchor="end">8</text><text transform="translate(493.6,232.7) scale(0.96,1)" text-anchor="end">10</text><text transform="translate(493.6,147.0) scale(0.96,1)" text-anchor="end">12</text><text transform="translate(493.6,61.3) scale(0.96,1)" text-anchor="end">14</text><text transform="translate(515.2,701.7) scale(0.96,1)" text-anchor="middle">0.0</text><text transform="translate(690.8,701.7) scale(0.96,1)" text-anchor="middle">0.2</text><text transform="translate(866.4,701.7) scale(0.96,1)" text-anchor="middle">0.4</text><text transform="translate(1041.9,701.7) scale(0.96,1)" text-anchor="middle">0.6</text><text transform="translate(1217.5,701.7) scale(0.96,1)" text-anchor="middle">0.8</text><text transform="translate(1393.1,701.7) scale(0.96,1)" text-anchor="middle">1.0</text></g>
<text font-family="Liberation Sans, sans-serif" font-size="45.9" fill="#000" xml:space="preserve" transform="translate(852.80,752.30) scale(0.9933,1)">Voltage (V)</text>
<text font-family="Liberation Sans, sans-serif" font-size="45.9" fill="#000" xml:space="preserve" transform="translate(425.80,588.15) rotate(-90) scale(0.9765,1)">Current density (mA/cm<tspan font-size="30" dy="-17.5">2</tspan><tspan dy="17.5">)</tspan></text>
<!-- curves -->
<path d="M515.5 50.2 L517.5 50.3 L519.6 50.3 L521.6 50.4 L523.6 50.5 L525.6 50.6 L527.7 50.6 L529.7 50.7 L531.7 50.8 L533.7 50.8 L535.7 50.9 L537.8 51.0 L539.8 51.0 L541.8 51.1 L543.8 51.2 L545.9 51.2 L547.9 51.3 L549.9 51.4 L551.9 51.4 L554.0 51.5 L556.0 51.6 L558.0 51.6 L560.0 51.7 L562.1 51.8 L564.1 51.8 L566.1 51.9 L568.1 51.9 L570.1 52.0 L572.2 52.1 L574.2 52.1 L576.2 52.2 L578.2 52.2 L580.3 52.3 L582.3 52.4 L584.3 52.4 L586.3 52.5 L588.3 52.5 L590.4 52.6 L592.4 52.7 L594.4 52.7 L596.4 52.8 L598.5 52.8 L600.5 52.9 L602.5 53.0 L604.5 53.0 L606.5 53.1 L608.6 53.1 L610.6 53.2 L612.6 53.2 L614.6 53.3 L616.6 53.4 L618.7 53.4 L620.7 53.5 L622.7 53.5 L624.7 53.6 L626.7 53.6 L628.8 53.7 L630.8 53.7 L632.8 53.8 L634.8 53.9 L636.8 53.9 L638.9 54.0 L640.9 54.0 L642.9 54.1 L644.9 54.1 L646.9 54.2 L648.9 54.3 L651.0 54.3 L653.0 54.4 L655.0 54.4 L657.0 54.5 L659.0 54.5 L661.1 54.6 L663.1 54.7 L665.1 54.7 L667.1 54.8 L669.1 54.8 L671.1 54.9 L673.2 54.9 L675.2 55.0 L677.2 55.1 L679.2 55.1 L681.2 55.2 L683.3 55.2 L685.3 55.3 L687.3 55.3 L689.3 55.4 L691.3 55.5 L693.3 55.5 L695.4 55.6 L697.4 55.6 L699.4 55.7 L701.4 55.8 L703.4 55.8 L705.4 55.9 L707.5 55.9 L709.5 56.0 L711.5 56.1 L713.5 56.1 L715.5 56.2 L717.5 56.2 L719.6 56.3 L721.6 56.4 L723.6 56.4 L725.6 56.5 L727.6 56.6 L729.6 56.6 L731.7 56.7 L733.7 56.8 L735.7 56.8 L737.7 56.9 L739.7 57.0 L741.7 57.0 L743.8 57.1 L745.8 57.2 L747.8 57.2 L749.8 57.3 L751.8 57.4 L753.8 57.4 L755.8 57.5 L757.9 57.6 L759.9 57.7 L761.9 57.7 L763.9 57.8 L765.9 57.9 L767.9 57.9 L770.0 58.0 L772.0 58.1 L774.0 58.2 L776.0 58.2 L778.0 58.3 L780.0 58.4 L782.0 58.5 L784.1 58.6 L786.1 58.6 L788.1 58.7 L790.1 58.8 L792.1 58.9 L794.1 59.0 L796.1 59.0 L798.2 59.1 L800.2 59.2 L802.2 59.3 L804.2 59.4 L806.2 59.5 L808.2 59.6 L810.2 59.6 L812.3 59.7 L814.3 59.8 L816.3 59.9 L818.3 60.0 L820.3 60.1 L822.3 60.2 L824.3 60.3 L826.4 60.4 L828.4 60.5 L830.4 60.6 L832.4 60.7 L834.4 60.8 L836.4 60.9 L838.4 61.0 L840.5 61.1 L842.5 61.2 L844.5 61.3 L846.5 61.4 L848.5 61.5 L850.5 61.6 L852.5 61.7 L854.6 61.8 L856.6 61.9 L858.6 62.0 L860.6 62.1 L862.6 62.2 L864.6 62.3 L866.6 62.4 L868.7 62.5 L870.7 62.7 L872.7 62.8 L874.7 62.9 L876.7 63.0 L878.7 63.1 L880.7 63.2 L882.8 63.4 L884.8 63.5 L886.8 63.6 L888.8 63.7 L890.8 63.9 L892.8 64.0 L894.8 64.1 L896.8 64.2 L898.9 64.4 L900.9 64.5 L902.9 64.6 L904.9 64.8 L906.9 64.9 L908.9 65.0 L910.9 65.2 L913.0 65.3 L915.0 65.5 L917.0 65.6 L919.0 65.7 L921.0 65.9 L923.0 66.0 L925.0 66.2 L927.1 66.3 L929.1 66.5 L931.1 66.6 L933.1 66.8 L935.1 66.9 L937.1 67.1 L939.1 67.2 L941.2 67.4 L943.2 67.5 L945.2 67.7 L947.2 67.8 L949.2 68.0 L951.2 68.2 L953.2 68.3 L955.3 68.5 L957.3 68.7 L959.3 68.8 L961.3 69.0 L963.3 69.2 L965.3 69.3 L967.3 69.5 L969.4 69.7 L971.4 69.9 L973.4 70.0 L975.4 70.2 L977.4 70.4 L979.4 70.6 L981.4 70.8 L983.5 71.0 L985.5 71.1 L987.5 71.3 L989.5 71.5 L991.5 71.7 L993.5 71.9 L995.5 72.1 L997.6 72.3 L999.6 72.5 L1001.6 72.7 L1003.6 72.9 L1005.6 73.1 L1007.6 73.3 L1009.6 73.5 L1011.7 73.7 L1013.7 73.9 L1015.7 74.1 L1017.7 74.4 L1019.7 74.6 L1021.7 74.8 L1023.7 75.0 L1025.8 75.2 L1027.8 75.4 L1029.8 75.7 L1031.8 75.9 L1033.8 76.1 L1035.8 76.3 L1037.9 76.6 L1039.9 76.8 L1041.9 77.0 L1043.9 77.3 L1045.9 77.5 L1047.9 77.7 L1049.9 78.0 L1052.0 78.2 L1054.0 78.5 L1056.0 78.7 L1058.0 79.0 L1060.0 79.2 L1062.0 79.5 L1064.1 79.7 L1066.1 80.0 L1068.1 80.2 L1070.1 80.5 L1072.1 80.8 L1074.1 81.0 L1076.2 81.3 L1078.2 81.6 L1080.2 81.8 L1082.2 82.1 L1084.2 82.4 L1086.2 82.6 L1088.3 82.9 L1090.3 83.2 L1092.3 83.5 L1094.3 83.8 L1096.3 84.0 L1098.3 84.3 L1100.4 84.6 L1102.4 84.9 L1104.4 85.2 L1106.4 85.5 L1108.4 85.8 L1110.4 86.1 L1112.5 86.4 L1114.5 86.7 L1116.5 87.0 L1118.5 87.4 L1120.5 87.7 L1122.5 88.0 L1124.5 88.4 L1126.5 88.7 L1128.5 89.1 L1130.5 89.4 L1132.5 89.8 L1134.5 90.2 L1136.5 90.6 L1138.5 91.0 L1140.4 91.4 L1142.4 91.8 L1144.4 92.3 L1146.3 92.7 L1148.3 93.2 L1150.2 93.7 L1152.2 94.1 L1154.1 94.6 L1156.1 95.2 L1158.0 95.7 L1159.9 96.2 L1162.3 96.9 L1164.7 97.7 L1167.1 98.4 L1169.5 99.2 L1171.8 100.0 L1174.1 100.9 L1176.5 101.7 L1178.8 102.6 L1181.1 103.6 L1183.4 104.5 L1185.6 105.5 L1187.9 106.6 L1190.1 107.6 L1192.4 108.7 L1194.6 109.9 L1196.8 111.1 L1198.9 112.3 L1201.1 113.5 L1202.8 114.6 L1204.5 115.6 L1206.2 116.7 L1207.9 117.8 L1209.5 119.0 L1211.2 120.1 L1212.8 121.3 L1214.4 122.5 L1216.0 123.8 L1217.6 125.0 L1219.2 126.3 L1220.7 127.6 L1222.3 129.0 L1223.8 130.3 L1225.3 131.7 L1226.8 133.1 L1228.2 134.5 L1229.7 136.0 L1231.1 137.4 L1232.5 138.9 L1233.8 140.4 L1235.2 142.0 L1236.5 143.5 L1237.8 145.1 L1239.1 146.7 L1240.3 148.3 L1241.5 149.9 L1242.8 151.5 L1243.9 153.2 L1245.1 154.9 L1246.3 156.5 L1247.4 158.2 L1248.5 159.9 L1249.6 161.7 L1250.7 163.4 L1251.8 165.1 L1252.8 166.9 L1253.9 168.6 L1254.9 170.4 L1255.9 172.1 L1256.9 173.9 L1257.8 175.7 L1258.8 177.4 L1259.7 179.2 L1260.7 181.0 L1261.6 182.8 L1262.5 184.6 L1263.4 186.4 L1264.3 188.2 L1265.2 190.1 L1266.0 191.9 L1266.9 193.7 L1267.7 195.5 L1268.5 197.4 L1269.3 199.2 L1270.1 201.0 L1270.9 202.9 L1271.7 204.7 L1272.4 206.6 L1273.2 208.5 L1273.9 210.3 L1274.6 212.2 L1275.3 214.1 L1276.1 216.0 L1276.7 217.8 L1277.4 219.7 L1278.1 221.6 L1278.8 223.5 L1279.4 225.4 L1280.1 227.3 L1280.7 229.2 L1281.3 231.1 L1281.9 233.0 L1282.5 234.9 L1283.1 236.9 L1283.7 238.8 L1284.3 240.7 L1284.9 242.6 L1285.4 244.6 L1286.0 246.5 L1286.5 248.4 L1287.1 250.4 L1287.6 252.3 L1288.1 254.3 L1288.6 256.2 L1289.2 258.2 L1289.7 260.1 L1290.1 262.1 L1290.6 264.0 L1291.1 266.0 L1291.6 268.0 L1292.1 269.9 L1292.5 271.9 L1293.0 273.9 L1293.4 275.8 L1293.9 277.8 L1294.3 279.8 L1294.7 281.8 L1295.2 283.8 L1295.6 285.7 L1296.0 287.7 L1296.4 289.7 L1296.8 291.7 L1297.2 293.7 L1297.6 295.7 L1298.0 297.7 L1298.4 299.6 L1298.8 301.6 L1299.2 303.6 L1299.5 305.6 L1299.9 307.6 L1300.3 309.6 L1300.6 311.6 L1301.0 313.6 L1301.4 315.6 L1301.7 317.6 L1302.1 319.6 L1302.4 321.6 L1302.8 323.6 L1303.1 325.6 L1303.5 327.6 L1303.8 329.6 L1304.2 331.6 L1304.5 333.6 L1304.9 335.6 L1305.2 337.6 L1305.5 339.6 L1305.9 341.6 L1306.2 343.6 L1306.6 345.6 L1306.9 347.6 L1307.2 349.6 L1307.6 351.7 L1307.9 353.7 L1308.2 355.7 L1308.6 357.7 L1308.9 359.7 L1309.2 361.7 L1309.6 363.7 L1309.9 365.6 L1310.2 367.6 L1310.6 369.6 L1310.9 371.6 L1311.2 373.6 L1311.6 375.6 L1311.9 377.6 L1312.2 379.6 L1312.6 381.6 L1312.9 383.6 L1313.2 385.6 L1313.5 387.6 L1313.9 389.6 L1314.2 391.6 L1314.5 393.6 L1314.9 395.6 L1315.2 397.6 L1315.5 399.6 L1315.8 401.6 L1316.2 403.6 L1316.5 405.6 L1316.8 407.6 L1317.1 409.6 L1317.5 411.6 L1317.8 413.5 L1318.1 415.5 L1318.4 417.5 L1318.7 419.5 L1319.1 421.5 L1319.4 423.5 L1319.7 425.5 L1320.0 427.5 L1320.3 429.5 L1320.6 431.5 L1320.9 433.5 L1321.3 435.5 L1321.6 437.5 L1321.9 439.4 L1322.2 441.4 L1322.5 443.4 L1322.8 445.4 L1323.1 447.4 L1323.4 449.4 L1323.7 451.4 L1324.0 453.4 L1324.4 455.4 L1324.7 457.4 L1325.0 459.4 L1325.3 461.4 L1325.6 463.3 L1325.9 465.3 L1326.2 467.3 L1326.5 469.3 L1326.8 471.3 L1327.1 473.3 L1327.4 475.3 L1327.6 477.3 L1327.9 479.3 L1328.2 481.3 L1328.5 483.3 L1328.8 485.3 L1329.1 487.3 L1329.4 489.3 L1329.7 491.2 L1330.0 493.2 L1330.2 495.2 L1330.5 497.2 L1330.8 499.2 L1331.1 501.2 L1331.4 503.2 L1331.7 505.2 L1331.9 507.2 L1332.2 509.2 L1332.5 511.2 L1332.8 513.2 L1333.0 515.2 L1333.3 517.2 L1333.6 519.2 L1333.8 521.2 L1334.1 523.2 L1334.4 525.2 L1334.6 527.2 L1334.9 529.2 L1335.2 531.2 L1335.4 533.1 L1335.7 535.1 L1335.9 537.1 L1336.2 539.1 L1336.4 541.1 L1336.7 543.1 L1336.9 545.1 L1337.2 547.1 L1337.4 549.1 L1337.7 551.1 L1337.9 553.1 L1338.2 555.1 L1338.4 557.1 L1338.7 559.2 L1338.9 561.2 L1339.1 563.2 L1339.4 565.2 L1339.6 567.2 L1339.8 569.2 L1340.1 571.2 L1340.3 573.2 L1340.5 575.2 L1340.8 577.2 L1341.0 579.2 L1341.2 581.2 L1341.4 583.2 L1341.7 585.2 L1341.9 587.2 L1342.1 589.2 L1342.3 591.3 L1342.5 593.3 L1342.7 595.3 L1342.9 597.3 L1343.1 599.3 L1343.3 601.3 L1343.6 603.3 L1343.8 605.3 L1344.0 607.3 L1344.2 609.4 L1344.4 611.4 L1344.5 613.4 L1344.7 615.4 L1344.9 617.4 L1345.1 619.4 L1345.3 621.5 L1345.5 623.5 L1345.7 625.5 L1345.9 627.5 L1346.0 629.5 L1346.2 631.6 L1346.4 633.6 L1346.6 635.6 L1346.7 637.6 L1346.9 639.7 L1347.1 641.7 L1347.2 643.7 L1347.4 645.7 L1347.6 647.8 L1347.7 649.8 L1347.7 651.8" fill="none" stroke="#0000ff" stroke-width="3.6" stroke-linejoin="round" clip-path="url(#lineclip)"/>
<path d="M515.5 104.7 L518.0 104.7 L520.4 104.8 L522.9 104.8 L525.3 104.9 L527.8 105.0 L530.2 105.0 L532.7 105.1 L535.1 105.1 L537.6 105.2 L540.1 105.2 L542.5 105.3 L545.0 105.3 L547.4 105.4 L549.9 105.5 L552.3 105.5 L554.8 105.6 L557.3 105.6 L559.7 105.7 L562.2 105.8 L564.6 105.8 L567.1 105.9 L569.5 105.9 L572.0 106.0 L574.5 106.1 L576.9 106.1 L579.4 106.2 L581.8 106.3 L584.3 106.3 L586.7 106.4 L589.2 106.5 L591.7 106.5 L594.1 106.6 L596.6 106.7 L599.0 106.7 L601.5 106.8 L603.9 106.9 L606.4 107.0 L608.9 107.0 L611.3 107.1 L613.8 107.2 L616.2 107.3 L618.7 107.3 L621.2 107.4 L623.6 107.5 L626.1 107.6 L628.5 107.6 L631.0 107.7 L633.4 107.8 L635.9 107.9 L638.4 107.9 L640.8 108.0 L643.3 108.1 L645.7 108.2 L648.2 108.3 L650.7 108.3 L653.1 108.4 L655.6 108.5 L658.0 108.6 L660.5 108.7 L662.9 108.8 L665.4 108.9 L667.9 108.9 L670.3 109.0 L672.8 109.1 L675.2 109.2 L677.7 109.3 L680.2 109.4 L682.6 109.5 L685.1 109.5 L687.5 109.6 L690.0 109.7 L692.5 109.8 L694.9 109.9 L697.4 110.0 L699.8 110.1 L702.3 110.2 L704.7 110.3 L707.2 110.4 L709.7 110.5 L712.1 110.6 L714.6 110.6 L717.0 110.7 L719.5 110.8 L722.0 110.9 L724.4 111.0 L726.9 111.1 L729.3 111.2 L731.8 111.3 L734.3 111.4 L736.7 111.5 L739.2 111.6 L741.6 111.7 L744.1 111.8 L746.5 111.9 L749.0 112.0 L751.5 112.1 L753.9 112.2 L756.4 112.3 L758.8 112.4 L761.3 112.5 L763.8 112.6 L766.2 112.7 L768.7 112.8 L771.1 112.9 L773.6 113.0 L776.0 113.1 L778.5 113.2 L781.0 113.3 L783.4 113.5 L785.9 113.6 L788.3 113.7 L790.8 113.8 L793.2 113.9 L795.7 114.0 L798.2 114.1 L800.6 114.2 L803.1 114.3 L805.5 114.4 L808.0 114.5 L810.4 114.6 L812.9 114.8 L815.4 114.9 L817.8 115.0 L820.3 115.1 L822.7 115.2 L825.2 115.3 L827.6 115.4 L830.1 115.5 L832.6 115.6 L835.0 115.8 L837.5 115.9 L839.9 116.0 L842.4 116.1 L844.8 116.2 L847.3 116.3 L849.8 116.4 L852.2 116.6 L854.7 116.7 L857.1 116.8 L859.6 116.9 L862.0 117.0 L864.5 117.1 L866.9 117.3 L869.4 117.4 L871.9 117.5 L874.3 117.6 L876.8 117.7 L879.2 117.9 L881.7 118.0 L884.1 118.1 L886.6 118.2 L889.0 118.3 L891.5 118.5 L893.9 118.6 L896.4 118.7 L898.8 118.8 L901.3 118.9 L903.8 119.1 L906.2 119.2 L908.7 119.3 L911.1 119.4 L913.6 119.5 L916.0 119.7 L918.5 119.8 L920.9 119.9 L923.4 120.0 L925.8 120.2 L928.3 120.3 L930.7 120.4 L933.2 120.5 L935.6 120.7 L938.1 120.8 L940.5 120.9 L943.0 121.1 L945.4 121.2 L947.9 121.3 L950.3 121.5 L952.8 121.6 L955.2 121.8 L957.7 121.9 L960.1 122.0 L962.6 122.2 L965.0 122.3 L967.5 122.5 L969.9 122.6 L972.4 122.8 L974.8 122.9 L977.3 123.1 L979.7 123.3 L982.2 123.4 L984.6 123.6 L987.1 123.8 L989.5 123.9 L992.0 124.1 L994.4 124.3 L996.9 124.5 L999.3 124.7 L1001.8 124.9 L1004.2 125.0 L1006.7 125.2 L1009.1 125.4 L1011.6 125.6 L1014.0 125.9 L1016.5 126.1 L1018.9 126.3 L1021.4 126.5 L1023.8 126.7 L1026.2 126.9 L1028.7 127.2 L1031.1 127.4 L1033.6 127.7 L1036.0 127.9 L1038.5 128.1 L1040.9 128.4 L1043.4 128.7 L1045.8 128.9 L1048.2 129.2 L1050.7 129.5 L1053.1 129.7 L1055.6 130.0 L1058.0 130.3 L1060.5 130.6 L1062.9 130.9 L1065.3 131.2 L1067.8 131.5 L1070.2 131.8 L1072.7 132.2 L1075.1 132.5 L1077.6 132.8 L1080.0 133.2 L1082.4 133.5 L1084.9 133.9 L1087.3 134.2 L1089.8 134.6 L1092.2 135.0 L1094.6 135.3 L1097.1 135.7 L1099.5 136.1 L1102.0 136.5 L1104.4 136.9 L1106.8 137.3 L1109.3 137.8 L1111.7 138.2 L1114.1 138.6 L1116.6 139.1 L1119.0 139.5 L1121.5 140.0 L1123.9 140.4 L1126.3 140.9 L1128.8 141.4 L1131.2 141.9 L1133.6 142.4 L1136.1 142.9 L1138.5 143.4 L1140.9 143.9 L1143.4 144.4 L1145.8 145.0 L1148.2 145.5 L1150.6 146.1 L1153.0 146.7 L1155.5 147.3 L1157.9 147.9 L1160.3 148.5 L1162.7 149.1 L1165.0 149.8 L1167.4 150.4 L1169.8 151.1 L1172.2 151.8 L1174.5 152.6 L1176.9 153.3 L1179.2 154.0 L1181.5 154.8 L1183.8 155.6 L1186.2 156.4 L1188.4 157.3 L1190.7 158.1 L1193.0 159.0 L1195.3 159.9 L1197.5 160.8 L1199.7 161.8 L1202.0 162.8 L1204.2 163.8 L1206.3 164.8 L1208.5 165.8 L1210.7 166.9 L1212.8 168.0 L1214.9 169.2 L1217.0 170.3 L1219.1 171.5 L1221.2 172.7 L1223.2 174.0 L1225.3 175.3 L1227.3 176.6 L1229.3 177.9 L1231.3 179.3 L1233.2 180.7 L1235.1 182.2 L1237.0 183.7 L1238.9 185.2 L1240.8 186.7 L1242.6 188.3 L1244.4 189.9 L1246.2 191.6 L1248.0 193.2 L1249.7 194.9 L1251.5 196.7 L1253.2 198.5 L1254.8 200.3 L1256.5 202.1 L1258.1 203.9 L1259.7 205.8 L1261.3 207.7 L1262.9 209.6 L1264.4 211.6 L1265.9 213.5 L1267.4 215.5 L1268.9 217.5 L1270.4 219.6 L1271.8 221.6 L1272.9 223.3 L1274.0 224.9 L1275.2 226.6 L1276.2 228.3 L1277.3 230.0 L1278.4 231.7 L1279.4 233.4 L1280.4 235.1 L1281.5 236.9 L1282.5 238.6 L1283.5 240.3 L1284.4 242.1 L1285.4 243.8 L1286.6 246.0 L1287.7 248.2 L1288.9 250.5 L1290.0 252.7 L1291.1 254.9 L1292.2 257.1 L1293.2 259.4 L1294.2 261.6 L1295.3 263.9 L1296.3 266.1 L1297.2 268.4 L1298.2 270.6 L1299.1 272.9 L1300.1 275.2 L1301.0 277.5 L1301.9 279.7 L1302.7 282.0 L1303.6 284.3 L1304.4 286.6 L1305.3 288.9 L1306.1 291.2 L1306.9 293.5 L1307.7 295.8 L1308.5 298.2 L1309.3 300.5 L1310.0 302.8 L1310.8 305.1 L1311.5 307.5 L1312.2 309.8 L1313.0 312.1 L1313.7 314.5 L1314.4 316.8 L1315.1 319.2 L1315.8 321.5 L1316.4 323.9 L1317.1 326.2 L1317.8 328.6 L1318.4 331.0 L1319.1 333.3 L1319.7 335.7 L1320.3 338.1 L1321.0 340.4 L1321.6 342.8 L1322.2 345.2 L1322.8 347.6 L1323.4 349.9 L1324.0 352.3 L1324.6 354.7 L1325.2 357.1 L1325.8 359.5 L1326.4 361.8 L1327.0 364.2 L1327.5 366.6 L1328.1 369.0 L1328.7 371.4 L1329.3 373.8 L1329.8 376.2 L1330.4 378.6 L1331.0 381.0 L1331.5 383.3 L1332.1 385.7 L1332.7 388.1 L1333.2 390.5 L1333.8 392.9 L1334.3 395.3 L1334.9 397.7 L1335.4 400.1 L1336.0 402.5 L1336.5 404.9 L1337.1 407.3 L1337.6 409.7 L1338.2 412.1 L1338.7 414.5 L1339.3 416.9 L1339.8 419.3 L1340.3 421.7 L1340.9 424.1 L1341.4 426.5 L1341.9 428.9 L1342.5 431.3 L1343.0 433.7 L1343.5 436.1 L1344.0 438.5 L1344.6 440.9 L1345.1 443.3 L1345.6 445.7 L1346.1 448.1 L1346.6 450.5 L1347.1 452.9 L1347.6 455.3 L1348.1 457.8 L1348.6 460.2 L1349.1 462.6 L1349.6 465.0 L1350.1 467.4 L1350.6 469.8 L1351.1 472.2 L1351.6 474.6 L1352.1 477.0 L1352.6 479.4 L1353.1 481.9 L1353.5 484.3 L1354.0 486.7 L1354.5 489.1 L1355.0 491.5 L1355.4 493.9 L1355.9 496.3 L1356.4 498.8 L1356.8 501.2 L1357.3 503.6 L1357.8 506.0 L1358.2 508.4 L1358.7 510.8 L1359.1 513.3 L1359.6 515.7 L1360.0 518.1 L1360.5 520.5 L1360.9 522.9 L1361.3 525.4 L1361.8 527.8 L1362.2 530.2 L1362.6 532.6 L1363.1 535.0 L1363.5 537.5 L1363.9 539.9 L1364.3 542.3 L1364.8 544.7 L1365.2 547.2 L1365.6 549.6 L1366.0 552.0 L1366.4 554.4 L1366.8 556.9 L1367.2 559.3 L1367.6 561.7 L1368.0 564.1 L1368.4 566.6 L1368.8 569.0 L1369.2 571.4 L1369.6 573.9 L1370.0 576.3 L1370.3 578.7 L1370.7 581.1 L1371.1 583.6 L1371.5 586.0 L1371.8 588.4 L1372.2 590.9 L1372.6 593.3 L1372.9 595.7 L1373.3 598.2 L1373.6 600.6 L1374.0 603.0 L1374.3 605.5 L1374.7 607.9 L1375.0 610.3 L1375.4 612.8 L1375.7 615.2 L1376.0 617.6 L1376.4 620.1 L1376.7 622.5 L1377.0 624.9 L1377.4 627.4 L1377.7 629.8 L1378.0 632.3 L1378.3 634.7 L1378.6 637.1 L1378.9 639.6 L1379.2 642.0 L1379.5 644.4 L1379.8 646.9 L1380.1 649.3 L1380.2 651.8" fill="none" stroke="#ff0000" stroke-width="3.9" stroke-linejoin="round" clip-path="url(#lineclip)"/>
<g fill="#ff0000" clip-path="url(#plotclip)">
<path d="M515.5 92.7 l10 17.6 h-20z"/>
<path d="M559.4 93.7 l10 17.6 h-20z"/>
<path d="M603.3 94.9 l10 17.6 h-20z"/>
<path d="M647.2 96.2 l10 17.6 h-20z"/>
<path d="M691.1 97.8 l10 17.6 h-20z"/>
<path d="M735.0 99.4 l10 17.6 h-20z"/>
<path d="M778.9 101.3 l10 17.6 h-20z"/>
<path d="M822.8 103.2 l10 17.6 h-20z"/>
<path d="M866.7 105.3 l10 17.6 h-20z"/>
<path d="M910.6 107.4 l10 17.6 h-20z"/>
<path d="M954.5 109.7 l10 17.6 h-20z"/>
<path d="M998.3 112.6 l10 17.6 h-20z"/>
<path d="M1042.2 116.5 l10 17.6 h-20z"/>
<path d="M1086.1 122.0 l10 17.6 h-20z"/>
<path d="M1130.0 129.6 l10 17.6 h-20z"/>
<path d="M1173.9 140.4 l10 17.6 h-20z"/>
<path d="M1217.8 158.8 l10 17.6 h-20z"/>
<path d="M1261.7 196.2 l10 17.6 h-20z"/>
<path d="M1305.6 277.9 l10 17.6 h-20z"/>
<path d="M1349.5 452.3 l10 17.6 h-20z"/>
</g>
<!-- legend -->
<rect x="549" y="157.8" width="276.2" height="115.8" fill="#000"/>
<rect x="539" y="147.5" width="277" height="116.2" fill="#fff" stroke="#000" stroke-width="1.4"/>
<path d="M557 181.8H658.3" stroke="#ff0000" stroke-width="4"/><path d="M607.6 170.3l10.4 17.6h-20.8z" fill="#ff0000"/>
<path d="M557 238H658.3" stroke="#0000ff" stroke-width="3.8"/><rect x="599.9" y="230.4" width="15.3" height="15.3" fill="#0000ff"/>
<text font-family="Liberation Sans, sans-serif" font-size="46.5" fill="#000" xml:space="preserve" transform="translate(671.95,197.00) scale(0.9486,1)">100 <tspan dy="5">°</tspan><tspan dy="-5">C</tspan></text>
<text font-family="Liberation Sans, sans-serif" font-size="46.5" fill="#000" xml:space="preserve" transform="translate(671.95,254.10) scale(0.9486,1)">150 <tspan dy="5">°</tspan><tspan dy="-5">C</tspan></text>
<text font-family="Liberation Sans, sans-serif" font-size="46.3" fill="#ff0000" xml:space="preserve" transform="translate(539.33,312.90) scale(0.9845,1)">a-Si:H Solar Cells</text>
<text font-family="Liberation Sans, sans-serif" font-size="46.3" fill="#ff0000" xml:space="preserve" transform="translate(541.30,368.10) scale(0.9762,1)">fabricated at low temperatures</text>
</svg>
</body></html>
